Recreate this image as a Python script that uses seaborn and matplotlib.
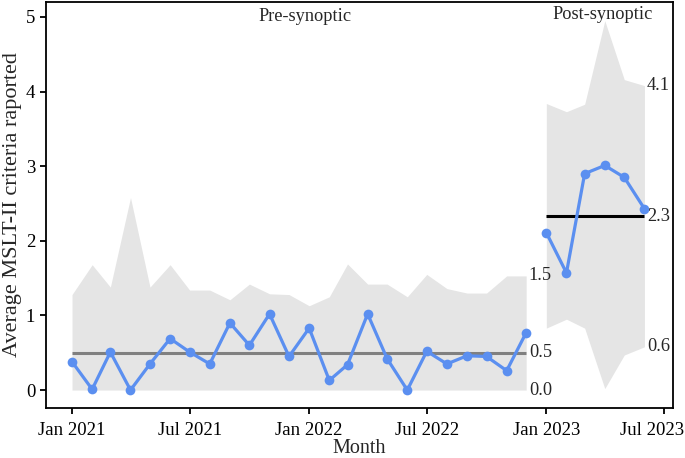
import numpy as np
import pandas as pd
import matplotlib
matplotlib.use("Agg")
import matplotlib.pyplot as plt
import matplotlib.dates as mdates
import matplotlib.transforms as mtransforms
import seaborn as sns

# ---- data ----
pre_months = pd.date_range("2021-01-01", "2022-12-01", freq="MS")
pre_values = [0.38, 0.01, 0.51, 0.00, 0.35, 0.69, 0.51, 0.35, 0.90, 0.60, 1.02, 0.45,
              0.83, 0.13, 0.34, 1.02, 0.42, 0.00, 0.52, 0.35, 0.46, 0.45, 0.26, 0.77]
pre_ucl = [1.28, 1.68, 1.38, 2.58, 1.38, 1.68, 1.34, 1.34, 1.21, 1.42, 1.29, 1.28,
           1.13, 1.25, 1.69, 1.42, 1.42, 1.25, 1.55, 1.36, 1.30, 1.30, 1.53, 1.53]
pre_lcl = [0.0] * 24
pre_mean = 0.5

post_months = pd.date_range("2023-01-01", "2023-06-01", freq="MS")
post_values = [2.11, 1.57, 2.90, 3.01, 2.85, 2.43]
post_ucl = [3.84, 3.73, 3.83, 4.95, 4.16, 4.08]
post_lcl = [0.83, 0.95, 0.83, 0.02, 0.47, 0.58]
post_mean = 2.33

phase_labels = ["Pre-synoptic", "Post-synoptic"]
x_label = "Month"
y_label = "Average MSLT-II criteria raported"

pre_df = pd.DataFrame({"month": pre_months, "value": pre_values})
post_df = pd.DataFrame({"month": post_months, "value": post_values})

# ---- style ----
sns.set_style("ticks")
plt.rcParams["font.family"] = ["Liberation Serif", "DejaVu Serif"]
plt.rcParams["axes.linewidth"] = 1.3
plt.rcParams["xtick.major.width"] = 1.3
plt.rcParams["ytick.major.width"] = 1.3
plt.rcParams["xtick.major.size"] = 4.3
plt.rcParams["ytick.major.size"] = 4.3
plt.rcParams["xtick.color"] = "black"
plt.rcParams["ytick.color"] = "black"
plt.rcParams["axes.edgecolor"] = "black"

blue = "#5B8FF0"
band = "#E5E5E5"

fig = plt.figure(figsize=(6.85, 4.58), dpi=100)
ax = fig.add_axes([0.0672, 0.1092, 0.9825 - 0.0672, 0.9956 - 0.1092])

# control bands
ax.fill_between(pre_df["month"], pre_lcl, pre_ucl, color=band, lw=0, zorder=1)
ax.fill_between(post_df["month"], post_lcl, post_ucl, color=band, lw=0, zorder=1)

# centre lines
ax.plot([pre_months[0], pre_months[-1]], [pre_mean, pre_mean], color="#808080", lw=2.2, zorder=2,
        solid_capstyle="butt")
ax.plot([post_months[0], post_months[-1]], [post_mean, post_mean], color="black", lw=2.2, zorder=2,
        solid_capstyle="butt")

# data lines
sns.lineplot(data=pre_df, x="month", y="value", ax=ax, color=blue, lw=2.3,
             marker="o", markersize=7, markeredgewidth=0, zorder=3)
sns.lineplot(data=post_df, x="month", y="value", ax=ax, color=blue, lw=2.3,
             marker="o", markersize=7, markeredgewidth=0, zorder=3)

# limit labels
off = pd.Timedelta(days=4)
fs = 13.2
for x, v in [(pre_months[-1], pre_ucl[-1]), (pre_months[-1], pre_mean), (pre_months[-1], pre_lcl[-1]),
             (post_months[-1], post_ucl[-1]), (post_months[-1], post_mean), (post_months[-1], post_lcl[-1])]:
    ax.text(x + off, v, f"{v:.1f}", ha="left", va="center", fontsize=fs, zorder=4)

# phase labels
ax.text(pd.Timestamp("2021-12-25"), 5.0, phase_labels[0], ha="center", va="center", fontsize=fs)
ax.text(pd.Timestamp("2023-03-28"), 5.03, phase_labels[1], ha="center", va="center", fontsize=fs)

ax.set_xlim(pd.Timestamp("2020-11-22"), pd.Timestamp("2023-07-15"))
ax.set_ylim(-0.24, 5.2)
ax.set_yticks([0, 1, 2, 3, 4, 5])
ax.xaxis.set_major_locator(mdates.MonthLocator(bymonth=[1, 7]))
ax.xaxis.set_major_formatter(mdates.DateFormatter("%b %Y"))
ax.tick_params(labelsize=13.5, colors="black")
ax.tick_params(axis="x", pad=6)

ax.set_xlabel(x_label, fontsize=14.5, labelpad=0)
ax.set_ylabel(y_label, fontsize=16, labelpad=3)

for s in ax.spines.values():
    s.set_visible(True)
    s.set_color("black")

fig.canvas.draw()
labels = ax.get_xticklabels()
shift = mtransforms.ScaledTranslation(-12 / 100, 0, fig.dpi_scale_trans)
labels[-1].set_transform(labels[-1].get_transform() + shift)

fig.savefig("out.png", dpi=100)
